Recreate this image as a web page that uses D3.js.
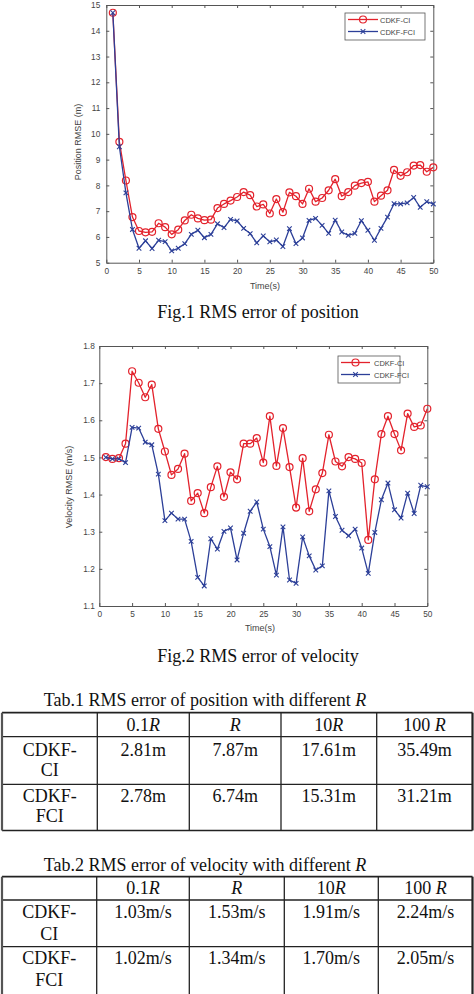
<!DOCTYPE html>
<html><head><meta charset="utf-8">
<script src="https://cdn.jsdelivr.net/npm/d3@7"></script>
<style>body{margin:0;background:#fff}svg{display:block}</style>
</head><body><svg id="c" width="474" height="994"></svg>
<script>
// ---------- data ----------
const time = [1,2,3,4,5,6,7,8,9,10,11,12,13,14,15,16,17,18,19,20,21,22,23,24,25,26,27,28,29,30,31,32,33,34,35,36,37,38,39,40,41,42,43,44,45,46,47,48,49,50];
const seriesNames = ["CDKF-CI", "CDKF-FCI"];
const posCI = [14.7,9.69,8.19,6.77,6.23,6.18,6.2,6.53,6.38,6.1,6.28,6.64,6.86,6.72,6.65,6.67,7.12,7.28,7.41,7.55,7.74,7.62,7.18,7.26,6.91,7.47,6.96,7.73,7.58,7.28,7.87,7.37,7.51,7.81,8.24,7.58,7.74,7.99,8.09,8.14,7.37,7.6,7.81,8.6,8.37,8.51,8.77,8.79,8.53,8.7];
const posFCI = [14.7,9.5,7.71,6.29,5.56,5.85,5.55,5.87,5.82,5.46,5.56,5.74,6.1,6.26,5.97,6.1,6.51,6.36,6.68,6.62,6.33,6.13,5.77,6.04,5.81,5.88,5.63,6.32,5.74,5.96,6.64,6.72,6.45,6.14,6.65,6.19,6.06,6.14,6.63,6.26,5.87,6.33,6.77,7.29,7.28,7.32,7.53,7.15,7.37,7.28];
const velCI = [1.501,1.496,1.498,1.537,1.732,1.701,1.662,1.696,1.577,1.516,1.453,1.469,1.51,1.383,1.404,1.35,1.42,1.476,1.394,1.46,1.441,1.537,1.537,1.552,1.486,1.611,1.477,1.579,1.474,1.365,1.498,1.355,1.414,1.458,1.561,1.489,1.476,1.501,1.496,1.485,1.278,1.441,1.563,1.611,1.563,1.519,1.618,1.582,1.586,1.631];
const velFCI = [1.5,1.496,1.496,1.486,1.581,1.579,1.541,1.534,1.455,1.33,1.35,1.334,1.334,1.274,1.177,1.154,1.281,1.253,1.301,1.31,1.224,1.296,1.355,1.38,1.307,1.26,1.183,1.313,1.17,1.161,1.286,1.235,1.197,1.208,1.41,1.341,1.304,1.289,1.307,1.256,1.188,1.298,1.386,1.431,1.359,1.337,1.404,1.349,1.425,1.421];
const timeTicks = [0,5,10,15,20,25,30,35,40,45,50];
const posTicks = [5,6,7,8,9,10,11,12,13,14,15];
const velTicks = [1.1,1.2,1.3,1.4,1.5,1.6,1.7,1.8];
const rHeaderPrefix = ["0.1", "", "10", "100 "];
const rowLabels = [["CDKF-","CI"],["CDKF-","FCI"]];
const tab1Values = [["2.81m","7.87m","17.61m","35.49m"],["2.78m","6.74m","15.31m","31.21m"]];
const tab2Values = [["1.03m/s","1.53m/s","1.91m/s","2.24m/s"],["1.02m/s","1.34m/s","1.70m/s","2.05m/s"]];

// ---------- style ----------
const RED = "#e3222c", BLUE = "#2c3f98", AXC = "#555", TXC = "#444";
const SANS = "'Liberation Sans', Arial, sans-serif";
const SERIF = "'Liberation Serif', 'Times New Roman', serif";
const svg = d3.select("#c");

function drawChart(o) {
  const g = svg.append("g");
  const x = d3.scaleLinear().domain([0, 50]).range([o.x0, o.x1]);
  const y = d3.scaleLinear().domain(o.yDomain).range([o.y1, o.y0]);
  const styleAxis = sel => {
    sel.selectAll(".domain").attr("stroke", AXC).attr("stroke-width", 1);
    sel.selectAll(".tick line").attr("stroke", AXC);
    sel.selectAll("text").attr("fill", TXC).style("font-family", SANS).style("font-size", "8.3px");
  };
  g.append("g").attr("transform", `translate(0,${o.y1})`)
    .call(d3.axisBottom(x).tickValues(timeTicks).tickSizeInner(-3).tickSizeOuter(0).tickPadding(o.xPad))
    .call(styleAxis);
  g.append("g").attr("transform", `translate(0,${o.y0})`)
    .call(d3.axisTop(x).tickValues(timeTicks).tickSizeInner(-3).tickSizeOuter(0).tickFormat(""))
    .call(styleAxis);
  g.append("g").attr("transform", `translate(${o.x0},0)`)
    .call(d3.axisLeft(y).tickValues(o.yTicks).tickFormat(o.fmt).tickSizeInner(-3).tickSizeOuter(0).tickPadding(o.yPad))
    .call(styleAxis);
  g.append("g").attr("transform", `translate(${o.x1},0)`)
    .call(d3.axisRight(y).tickValues(o.yTicks).tickSizeInner(-3).tickSizeOuter(0).tickFormat(""))
    .call(styleAxis);

  const line = d3.line().x((d, i) => x(time[i])).y(d => y(d));
  [[o.a, RED, "o"], [o.b, BLUE, "x"]].forEach(([vals, col, mk]) => {
    g.append("path").datum(vals).attr("d", line).attr("fill", "none")
      .attr("stroke", col).attr("stroke-width", 1.3).attr("stroke-linejoin", "round");
    const m = g.append("g");
    vals.forEach((v, i) => {
      const cx = x(time[i]), cy = y(v);
      if (mk === "o") m.append("circle").attr("cx", cx).attr("cy", cy).attr("r", 3.5)
        .attr("fill", "none").attr("stroke", col).attr("stroke-width", 1.2);
      else m.append("path").attr("d", `M${cx-2.3},${cy-2.3}L${cx+2.3},${cy+2.3}M${cx-2.3},${cy+2.3}L${cx+2.3},${cy-2.3}`)
        .attr("stroke", col).attr("stroke-width", 1.1);
    });
  });

  // legend
  const L = o.legend;
  g.append("rect").attr("x", L.x).attr("y", L.y).attr("width", L.w).attr("height", L.h)
    .attr("fill", "#fff").attr("stroke", AXC).attr("stroke-width", 0.8);
  seriesNames.forEach((name, k) => {
    const ly = L.rows[k], col = k === 0 ? RED : BLUE;
    g.append("line").attr("x1", L.lx0).attr("x2", L.lx1).attr("y1", ly).attr("y2", ly)
      .attr("stroke", col).attr("stroke-width", 1.3);
    const mx = (L.lx0 + L.lx1) / 2;
    if (k === 0) g.append("circle").attr("cx", mx).attr("cy", ly).attr("r", 3.5)
      .attr("fill", "none").attr("stroke", col).attr("stroke-width", 1.2);
    else g.append("path").attr("d", `M${mx-2.3},${ly-2.3}L${mx+2.3},${ly+2.3}M${mx-2.3},${ly+2.3}L${mx+2.3},${ly-2.3}`)
      .attr("stroke", col).attr("stroke-width", 1.1);
    g.append("text").attr("x", L.tx).attr("y", ly + 3).text(name)
      .attr("fill", TXC).style("font-family", SANS).style("font-size", "7.5px");
  });

  // labels
  g.append("text").attr("x", o.xlab[0]).attr("y", o.xlab[1]).attr("text-anchor", "middle")
    .text("Time(s)").attr("fill", TXC).style("font-family", SANS).style("font-size", "9px");
  g.append("text").attr("transform", `translate(${o.ylab[0]},${o.ylab[1]}) rotate(-90)`)
    .attr("text-anchor", "middle").text(o.ylabel)
    .attr("fill", TXC).style("font-family", SANS).style("font-size", "9px");
  svg.append("text").attr("x", o.cap[0]).attr("y", o.cap[1]).attr("text-anchor", "middle")
    .text(o.caption).attr("fill", "#111").style("font-family", SERIF).style("font-size", "18px");
}

drawChart({
  x0: 106.3, x1: 433.3, y0: 5, y1: 262.7, yDomain: [5, 15], yTicks: posTicks, fmt: d3.format("d"),
  xPad: 5, yPad: 6, a: posCI, b: posFCI,
  legend: { x: 345, y: 13, w: 80, h: 27, rows: [19.5, 31.5], lx0: 348, lx1: 378, tx: 380 },
  xlab: [265, 289], ylab: [81, 142], ylabel: "Position RMSE (m)",
  cap: [258, 318], caption: "Fig.1 RMS error of position"
});
drawChart({
  x0: 99.3, x1: 427.3, y0: 346, y1: 606, yDomain: [1.1, 1.8], yTicks: velTicks, fmt: d3.format(".1f"),
  xPad: 5, yPad: 4.5, a: velCI, b: velFCI,
  legend: { x: 338, y: 356, w: 62, h: 27, rows: [362.5, 374.5], lx0: 341, lx1: 370, tx: 374 },
  xlab: [260, 631], ylab: [72, 487], ylabel: "Velocity RMSE (m/s)",
  cap: [258, 662], caption: "Fig.2 RMS error of velocity"
});

// ---------- tables ----------
function drawTable(o) {
  const g = svg.append("g");
  g.append("text").attr("x", o.capX).attr("y", o.capY).attr("text-anchor", "middle")
    .attr("fill", "#111").style("font-family", SERIF).style("font-size", "18px")
    .call(t => { t.append("tspan").text(o.caption); t.append("tspan").attr("font-style", "italic").text("R"); });
  const cols = o.cols, rows = o.rows;
  rows.forEach((ry, i) => {
    g.append("line").attr("x1", cols[0]).attr("x2", cols[cols.length - 1]).attr("y1", ry).attr("y2", ry)
      .attr("stroke", "#222").attr("stroke-width", i === 0 ? 1.8 : 1.3);
  });
  cols.forEach((cx, j) => {
    g.append("line").attr("x1", cx).attr("x2", cx).attr("y1", rows[0]).attr("y2", o.bottom)
      .attr("stroke", j === 0 ? "#555" : "#222").attr("stroke-width", j === 0 || j === cols.length - 1 ? 2.2 : 1.3);
  });
  const txt = (x, y) => g.append("text").attr("x", x).attr("y", y).attr("text-anchor", "middle")
    .attr("fill", "#111").style("font-family", SERIF).style("font-size", "18px");
  rHeaderPrefix.forEach((p, j) => {
    const t = txt((cols[j + 1] + cols[j + 2]) / 2, o.hy);
    t.append("tspan").text(p); t.append("tspan").attr("font-style", "italic").text("R");
  });
  rowLabels.forEach((lab, i) => {
    txt((cols[0] + cols[1]) / 2, o.ry[i][0]).text(lab[0]);
    txt((cols[0] + cols[1]) / 2, o.ry[i][1]).text(lab[1]);
    o.values[i].forEach((v, j) => txt((cols[j + 1] + cols[j + 2]) / 2, o.ry[i][0]).text(v));
  });
}
drawTable({
  caption: "Tab.1 RMS error of position with different ", capX: 205, capY: 706,
  cols: [2, 97.3, 189.3, 281, 376.7, 472.5], rows: [712.7, 736.7, 784.3, 830.5], bottom: 830.5,
  hy: 731, ry: [[756, 776], [802, 822]], values: tab1Values
});
drawTable({
  caption: "Tab.2 RMS error of velocity with different ", capX: 205, capY: 871,
  cols: [2, 96.7, 189.3, 284.3, 378.3, 472.5], rows: [876.7, 900, 946.7], bottom: 994,
  hy: 894, ry: [[917.5, 940], [964, 986]], values: tab2Values
});
</script></body></html>
